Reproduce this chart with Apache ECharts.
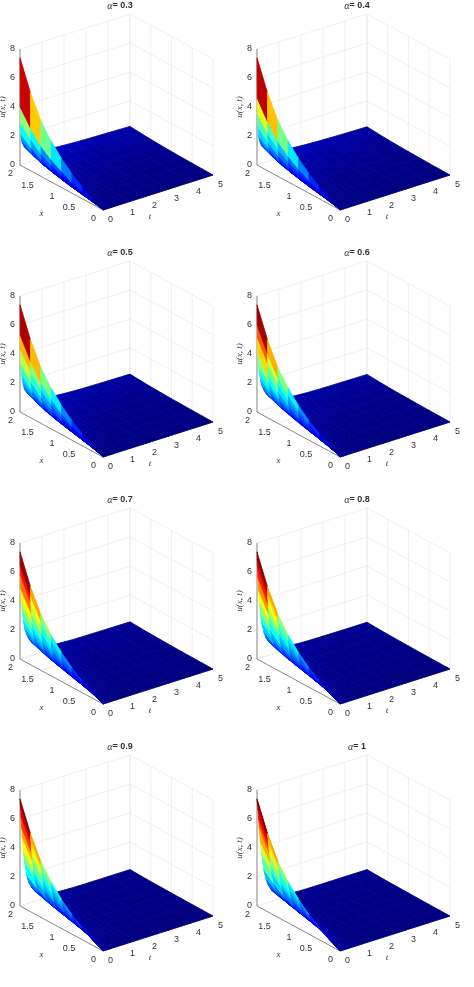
<!DOCTYPE html>
<html lang="en">
<head>
<meta charset="UTF-8">
<title>u(x,t) surfaces</title>
<style>
  html, body { margin: 0; padding: 0; background: #fff; }
  #main { width: 474px; height: 987px; }
</style>
</head>
<body>
<div id="main"></div>
<script src="https://cdn.jsdelivr.net/npm/echarts@6/dist/echarts.min.js"></script>
<script>
// data
var alphas = ['0.3', '0.4', '0.5', '0.6', '0.7', '0.8', '0.9', '1'];
var tVals = [0, 0.01, 0.02, 0.04, 0.07, 0.1, 0.15, 0.2, 0.3, 0.4, 0.5, 0.65, 0.8, 1, 1.25, 1.5, 2, 2.5, 3, 4, 5];
var xVals = [0, 0.25, 0.5, 0.75, 1, 1.25, 1.5, 1.75, 2];
var xProfile = [0, 0.05, 0.11, 0.18, 0.27, 0.38, 0.52, 0.73, 1];
// u(2,t) edge for each alpha
var edge03 = [7.39, 4.0, 2.9, 2.1, 1.7, 1.5, 1.3, 1.15, 1.0, 0.9, 0.8, 0.7, 0.62, 0.55, 0.5, 0.45, 0.4, 0.36, 0.33, 0.29, 0.25];
var edge04 = [7.39, 4.6, 3.5, 2.6, 2.0, 1.7, 1.45, 1.25, 1.05, 0.9, 0.8, 0.7, 0.6, 0.52, 0.46, 0.42, 0.36, 0.32, 0.29, 0.25, 0.22];
var edge05 = [7.39, 5.3, 4.3, 3.3, 2.6, 2.2, 1.8, 1.5, 1.2, 1.0, 0.85, 0.7, 0.58, 0.48, 0.42, 0.37, 0.31, 0.27, 0.25, 0.22, 0.2];
var edge06 = [7.39, 6.0, 5.1, 4.0, 3.2, 2.7, 2.2, 1.8, 1.4, 1.1, 0.9, 0.7, 0.56, 0.45, 0.37, 0.32, 0.26, 0.23, 0.21, 0.19, 0.18];
var edge07 = [7.39, 6.5, 5.8, 4.8, 3.9, 3.3, 2.6, 2.1, 1.55, 1.2, 0.95, 0.7, 0.52, 0.4, 0.31, 0.26, 0.21, 0.18, 0.17, 0.16, 0.15];
var edge08 = [7.39, 6.9, 6.4, 5.6, 4.7, 4.0, 3.1, 2.5, 1.75, 1.3, 1.0, 0.7, 0.5, 0.35, 0.26, 0.21, 0.16, 0.14, 0.13, 0.12, 0.12];
var edge09 = [7.39, 7.1, 6.8, 6.2, 5.4, 4.7, 3.7, 3.0, 2.0, 1.45, 1.1, 0.75, 0.5, 0.32, 0.22, 0.17, 0.13, 0.11, 0.1, 0.1, 0.1];
var edge10 = [7.39, 7.25, 7.1, 6.7, 6.0, 5.4, 4.4, 3.6, 2.4, 1.7, 1.25, 0.8, 0.52, 0.32, 0.2, 0.15, 0.11, 0.1, 0.1, 0.1, 0.1];
var edges = [edge03, edge04, edge05, edge06, edge07, edge08, edge09, edge10];
var uTicks = [0, 2, 4, 6, 8];
var xTicks = [0, 0.5, 1, 1.5, 2];
var tTicks = [0, 1, 2, 3, 4, 5];

// projection of (x, t, u) into page pixels for panel k
function proj(k, x, t, u) {
  var ox = (k % 2) * 237, oy = Math.floor(k / 2) * 247;
  return [ox + 103 - 41.5 * x + 22 * t, oy + 210 - 22.5 * x - 7 * t - 14.5 * u];
}

function jet(v) {
  var r = Math.min(Math.max(Math.min(4 * v - 1.5, -4 * v + 4.5), 0), 1);
  var g = Math.min(Math.max(Math.min(4 * v - 0.5, -4 * v + 3.5), 0), 1);
  var b = Math.min(Math.max(Math.min(4 * v + 0.5, -4 * v + 2.5), 0), 1);
  return 'rgb(' + Math.round(r * 255) + ',' + Math.round(g * 255) + ',' + Math.round(b * 255) + ')';
}

var shapes = [];
var greyC = '#e6e6e6';
alphas.forEach(function (a, k) {
  // back walls and floor grid
  uTicks.forEach(function (u) {
    shapes.push({ kind: 'line', pts: [proj(k, 2, 0, u), proj(k, 2, 5, u), proj(k, 0, 5, u)], color: greyC });
  });
  tTicks.forEach(function (t) {
    shapes.push({ kind: 'line', pts: [proj(k, 0, t, 0), proj(k, 2, t, 0), proj(k, 2, t, 8)], color: greyC });
  });
  xTicks.forEach(function (x) {
    shapes.push({ kind: 'line', pts: [proj(k, x, 0, 0), proj(k, x, 5, 0), proj(k, x, 5, 8)], color: greyC });
  });
  shapes.push({ kind: 'line', pts: [proj(k, 2, 0, 0), proj(k, 2, 0, 8)], color: '#444' });
  shapes.push({ kind: 'line', pts: [proj(k, 2, 0, 0), proj(k, 0, 0, 0), proj(k, 0, 5, 0)], color: '#444' });
  // surface quads, back to front
  var quads = [];
  var e = edges[k];
  for (var i = 0; i < xVals.length - 1; i++) {
    for (var j = 0; j < tVals.length - 1; j++) {
      var u00 = e[j] * xProfile[i], u10 = e[j] * xProfile[i + 1];
      var u01 = e[j + 1] * xProfile[i], u11 = e[j + 1] * xProfile[i + 1];
      var top = Math.max(u00, u10, u01, u11);
      quads.push({
        depth: (xVals[i] + xVals[i + 1]) / 4 + (tVals[j] + tVals[j + 1]) / 10,
        kind: 'poly',
        pts: [proj(k, xVals[i], tVals[j], u00), proj(k, xVals[i + 1], tVals[j], u10),
              proj(k, xVals[i + 1], tVals[j + 1], u11), proj(k, xVals[i], tVals[j + 1], u01)],
        color: jet(Math.min(1, (top * 0.65 + (u00 + u10 + u01 + u11) * 0.0875) / 7.39 * 1.05))
      });
    }
  }
  quads.sort(function (p, q) { return q.depth - p.depth; });
  shapes = shapes.concat(quads);
  // tick labels
  uTicks.forEach(function (u) {
    var p = proj(k, 2, 0, u);
    shapes.push({ kind: 'text', pts: [[p[0] - 5, p[1]]], text: String(u), align: 'right' });
  });
  xTicks.forEach(function (x) {
    var p = proj(k, x, 0, 0);
    shapes.push({ kind: 'text', pts: [[p[0] - 7, p[1] + 9]], text: String(x), align: 'right' });
  });
  tTicks.forEach(function (t) {
    var p = proj(k, 0, t, 0);
    shapes.push({ kind: 'text', pts: [[p[0] + 5, p[1] + 10]], text: String(t), align: 'left' });
  });
  var px = proj(k, 1, 0, 0), pt = proj(k, 0, 2.5, 0), pu = proj(k, 2, 0, 4);
  shapes.push({ kind: 'text', pts: [[px[0] - 20, px[1] + 26]], text: 'x', align: 'center', italic: true });
  shapes.push({ kind: 'text', pts: [[pt[0] - 8, pt[1] + 24]], text: 't', align: 'center', italic: true });
  shapes.push({ kind: 'text', pts: [[pu[0] - 17, pu[1]]], text: 'u(x, t)', align: 'center', italic: true, rotate: Math.PI / 2 });
  var ox = (k % 2) * 237, oy = Math.floor(k / 2) * 247;
  shapes.push({ kind: 'text', pts: [[ox + 120, oy + 6]], text: '{a|α}= ' + a, align: 'center', bold: true });
});

var chart = echarts.init(document.getElementById('main'), null, { renderer: 'canvas' });
var option = {
  animation: false,
  backgroundColor: '#fff',
  grid: { left: 0, right: 0, top: 0, bottom: 0 },
  xAxis: { type: 'value', min: 0, max: 474, show: false },
  yAxis: { type: 'value', min: 0, max: 987, inverse: true, show: false },
  series: [{
    type: 'custom',
    coordinateSystem: 'cartesian2d',
    clip: false,
    data: shapes.map(function (s, idx) { return [s.pts[0][0], s.pts[0][1], idx]; }),
    renderItem: function (params, api) {
      var s = shapes[api.value(2)];
      var pts = s.pts.map(function (p) { return api.coord(p); });
      if (s.kind === 'line') {
        return { type: 'polyline', shape: { points: pts }, style: { stroke: s.color, lineWidth: 0.6, fill: null } };
      }
      if (s.kind === 'poly') {
        return { type: 'polygon', shape: { points: pts }, style: { fill: s.color, stroke: s.color, lineWidth: 0.8 } };
      }
      return {
        type: 'text', x: pts[0][0], y: pts[0][1], rotation: s.rotate || 0,
        style: {
          text: s.text, fill: '#333', align: s.align, verticalAlign: 'middle',
          font: (s.italic ? 'italic 9px "Liberation Serif"' : (s.bold ? 'bold ' : '') + '9px "Liberation Sans"'),
          rich: { a: { fontStyle: 'italic', fontFamily: 'Liberation Serif', fontSize: 10 } }
        }
      };
    }
  }]
};
option && chart.setOption(option);
</script>
</body>
</html>
